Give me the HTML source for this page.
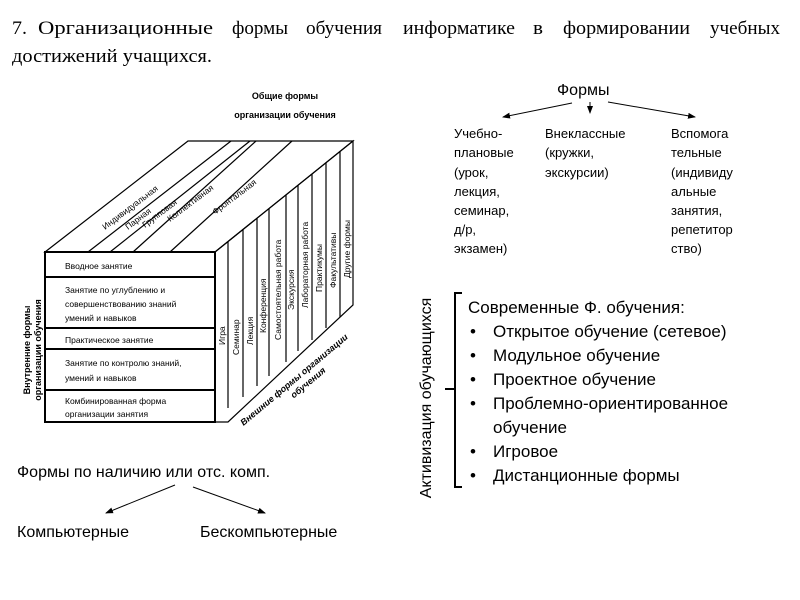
<!DOCTYPE html>
<html><head><meta charset="utf-8"><style>
body{margin:0;background:#fff;}
svg{display:block;font-family:"Liberation Sans",sans-serif;}
.t{font-family:"Liberation Serif",serif;font-size:19px;}
</style></head><body>
<svg width="800" height="600" viewBox="0 0 800 600" xmlns="http://www.w3.org/2000/svg">
<defs><marker id="a" markerWidth="8" markerHeight="6" refX="7" refY="3" orient="auto"><path d="M0,0 L8,3 L0,6 z" fill="#000"/></marker></defs>
<!-- title -->
<g class="t">
<text x="12" y="34" textLength="15" lengthAdjust="spacingAndGlyphs">7.</text>
<text x="38" y="34" textLength="175" lengthAdjust="spacingAndGlyphs">Организационные</text>
<text x="232" y="34" textLength="56" lengthAdjust="spacingAndGlyphs">формы</text>
<text x="306" y="34" textLength="76" lengthAdjust="spacingAndGlyphs">обучения</text>
<text x="403" y="34" textLength="112" lengthAdjust="spacingAndGlyphs">информатике</text>
<text x="533" y="34" textLength="10" lengthAdjust="spacingAndGlyphs">в</text>
<text x="563" y="34" textLength="127" lengthAdjust="spacingAndGlyphs">формировании</text>
<text x="710" y="34" textLength="70" lengthAdjust="spacingAndGlyphs">учебных</text>
<text x="12" y="62" textLength="200" lengthAdjust="spacingAndGlyphs">достижений учащихся.</text>
</g>

<!-- Formy tree -->
<text x="557" y="95" font-size="16">Формы</text>
<g stroke="#000" stroke-width="1" fill="none">
<line x1="572" y1="103" x2="503" y2="117" marker-end="url(#a)"/>
<line x1="590" y1="102" x2="590" y2="113" marker-end="url(#a)"/>
<line x1="608" y1="102" x2="695" y2="117" marker-end="url(#a)"/>
</g>
<g font-size="13">
<text x="454" y="138">Учебно-</text><text x="454" y="157">плановые</text><text x="454" y="177">(урок,</text><text x="454" y="196">лекция,</text><text x="454" y="215">семинар,</text><text x="454" y="234">д/р,</text><text x="454" y="253">экзамен)</text>
<text x="545" y="138">Внеклассные</text><text x="545" y="157">(кружки,</text><text x="545" y="177">экскурсии)</text>
<text x="671" y="138">Вспомога</text><text x="671" y="157">тельные</text><text x="671" y="177">(индивиду</text><text x="671" y="196">альные</text><text x="671" y="215">занятия,</text><text x="671" y="234">репетитор</text><text x="671" y="253">ство)</text>
</g>

<!-- modern forms -->
<text transform="translate(431,398) rotate(-90)" text-anchor="middle" font-size="16">Активизация обучающихся</text>
<g stroke="#000" stroke-width="2" fill="none">
<polyline points="462,293 455,293 455,487 462,487"/>
<line x1="445" y1="389" x2="455" y2="389"/>
</g>
<g font-size="17">
<text x="468" y="313">Современные Ф. обучения:</text>
<text x="470" y="337">•</text><text x="493" y="337">Открытое обучение (сетевое)</text>
<text x="470" y="361">•</text><text x="493" y="361">Модульное обучение</text>
<text x="470" y="385">•</text><text x="493" y="385">Проектное обучение</text>
<text x="470" y="409">•</text><text x="493" y="409">Проблемно-ориентированное</text>
<text x="493" y="433">обучение</text>
<text x="470" y="457">•</text><text x="493" y="457">Игровое</text>
<text x="470" y="481">•</text><text x="493" y="481">Дистанционные формы</text>
</g>

<!-- bottom left -->
<g font-size="16">
<text x="17" y="477">Формы по наличию или отс. комп.</text>
<text x="17" y="537">Компьютерные</text>
<text x="200" y="537">Бескомпьютерные</text>
</g>
<g stroke="#000" stroke-width="1">
<line x1="175" y1="485" x2="106" y2="513" marker-end="url(#a)"/>
<line x1="193" y1="487" x2="265" y2="513" marker-end="url(#a)"/>
</g>

<!-- cube -->
<g font-size="9" font-weight="bold" text-anchor="middle">
<text x="285" y="99">Общие формы</text>
<text x="285" y="118">организации обучения</text>
</g>
<g stroke="#000" fill="none" stroke-width="1.2">
<polygon points="45,252 188,141 353,141 215,252" />
<line x1="88" y1="252" x2="231" y2="141"/>
<line x1="110" y1="252" x2="250" y2="141"/>
<line x1="133" y1="252" x2="256" y2="141"/>
<line x1="170" y1="252" x2="292" y2="141"/>
<polygon points="215,252 353,141 353,305 228,422 215,422"/>
<line x1="228" y1="242" x2="228" y2="408"/>
<line x1="243" y1="229" x2="243" y2="397"/>
<line x1="257" y1="218" x2="257" y2="386"/>
<line x1="269" y1="209" x2="269" y2="376"/>
<line x1="286" y1="195" x2="286" y2="362"/>
<line x1="298" y1="185" x2="298" y2="351"/>
<line x1="312" y1="174" x2="312" y2="340"/>
<line x1="326" y1="163" x2="326" y2="328"/>
<line x1="340" y1="151" x2="340" y2="317"/>
</g>
<g stroke="#000" fill="none" stroke-width="2">
<rect x="45" y="252" width="170" height="170"/>
<line x1="45" y1="277" x2="215" y2="277"/>
<line x1="45" y1="328" x2="215" y2="328"/>
<line x1="45" y1="349" x2="215" y2="349"/>
<line x1="45" y1="390" x2="215" y2="390"/>
</g>
<g font-size="8.5">
<text x="65" y="269">Вводное занятие</text>
<text x="65" y="293">Занятие по углублению и</text>
<text x="65" y="307">совершенствованию знаний</text>
<text x="65" y="321">умений и навыков</text>
<text x="65" y="343">Практическое занятие</text>
<text x="65" y="366">Занятие по контролю знаний,</text>
<text x="65" y="381">умений и навыков</text>
<text x="65" y="404">Комбинированная форма</text>
<text x="65" y="417">организации занятия</text>
</g>
<g font-size="8.5">
<text transform="translate(225,345) rotate(-90)">Игра</text>
<text transform="translate(239,355) rotate(-90)">Семинар</text>
<text transform="translate(253,345) rotate(-90)">Лекция</text>
<text transform="translate(266,333) rotate(-90)">Конференция</text>
<text transform="translate(281,340) rotate(-90)">Самостоятельная работа</text>
<text transform="translate(294,310) rotate(-90)">Экскурсия</text>
<text transform="translate(308,308) rotate(-90)">Лабораторная работа</text>
<text transform="translate(322,292) rotate(-90)">Практикумы</text>
<text transform="translate(336,288) rotate(-90)">Факультативы</text>
<text transform="translate(350,278) rotate(-90)">Другие формы</text>
<text transform="translate(105,230) rotate(-37)">Индивидуальная</text>
<text transform="translate(128,230) rotate(-37)">Парная</text>
<text transform="translate(145,228) rotate(-37)">Групповая</text>
<text transform="translate(170,222) rotate(-37)">Коллективная</text>
<text transform="translate(215,215) rotate(-37)">Фронтальная</text>
</g>
<g font-size="9" font-weight="bold" text-anchor="middle">
<text transform="translate(30,350) rotate(-90)">Внутренние формы</text>
<text transform="translate(41,350) rotate(-90)">организации обучения</text>
<text font-style="italic" transform="translate(296,382) rotate(-40)">Внешние формы организации</text>
<text font-style="italic" transform="translate(310,385) rotate(-40)">обучения</text>
</g>
</svg>
</body></html>
